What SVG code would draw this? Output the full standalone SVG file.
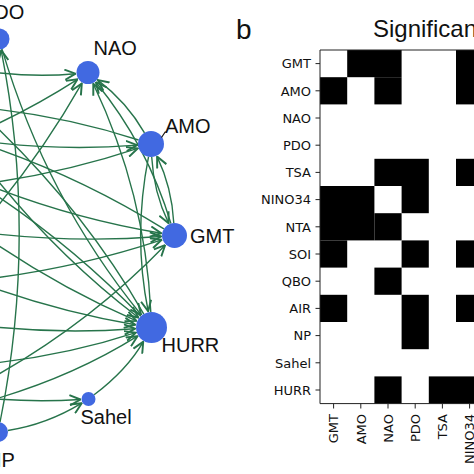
<svg xmlns="http://www.w3.org/2000/svg" width="474" height="474" viewBox="0 0 474 474">
<defs>
<marker id="ah" markerUnits="userSpaceOnUse" markerWidth="12" markerHeight="12" viewBox="0 0 8 8" refX="7.5" refY="4" orient="auto">
<path d="M0.3,0.6 L7.5,4 L0.3,7.4" fill="none" stroke="#27744b" stroke-width="1.3"/>
</marker>
</defs>
<style>
.e{fill:none;stroke:#27744b;stroke-width:1.4;marker-end:url(#ah)}
.n{fill:#4169e1}
.nl{font-family:"Liberation Sans",Arial,sans-serif;font-size:20px;fill:#111}
.tl{font-family:"DejaVu Sans",sans-serif;font-size:13px;fill:#111}
.blk{fill:#000}
.ax{stroke:#222;stroke-width:1;fill:none}
</style>
<rect width="474" height="474" fill="#fff"/>
<g id="connectors">
<path class="e" d="M173.8,223.0 Q171.9,187.4 157.1,156.6"/>
<path class="e" d="M151.7,157.0 Q153.6,192.1 168.6,223.3"/>
<path class="e" d="M170.9,223.5 Q147.6,145.4 95.9,82.2"/>
<path class="e" d="M144.5,132.8 Q126.7,102.0 97.9,80.1"/>
<path class="e" d="M150.8,312.0 Q145.3,193.7 93.3,83.8"/>
<path class="e" d="M163.9,228.9 Q17.1,137.2 -166,107"/>
<path class="e" d="M138.6,140.0 Q-3.8,93.8 -166,107"/>
<path class="e" d="M-166,107 Q-8.6,205.3 161.2,233.3"/>
<path class="e" d="M-166,107 Q-11.2,157.2 137.1,145.1"/>
<path class="e" d="M-209,189 Q-21.9,250.6 161.0,236.5"/>
<path class="e" d="M-209,189 Q-24.5,202.5 137.7,148.4"/>
<path class="e" d="M-209,189 Q-48.9,160.5 77.5,79.3"/>
<path class="e" d="M-209,283 Q-12.5,297.6 161.7,239.8"/>
<path class="e" d="M-89,418 Q61.0,353.1 165.1,245.2"/>
<path class="e" d="M-89,54 Q-2.4,81.0 75.6,73.7"/>
<path class="e" d="M-166,365 Q-9.8,244.2 81.8,83.4"/>
<path class="e" d="M0,422.2 Q37.8,235.6 1.2,50.3"/>
<path class="e" d="M143.8,314.1 Q58.6,166.7 -89,54"/>
<path class="e" d="M140.8,316.3 Q14.8,185.5 -166,107"/>
<path class="e" d="M148.5,156.8 Q132.9,235.8 148.2,311.3"/>
<path class="e" d="M2.0,49.1 Q46.4,198.5 141.1,314.7"/>
<path class="e" d="M-89,54 Q3.9,214.8 138.4,317.5"/>
<path class="e" d="M-166,107 Q-29.3,249.0 136.4,320.9"/>
<path class="e" d="M-209,189 Q-42.6,294.3 135.2,324.7"/>
<path class="e" d="M-209,283 Q-33.2,341.3 135.1,328.7"/>
<path class="e" d="M-166,365 Q-3.5,378.0 135.8,332.6"/>
<path class="e" d="M-89,418 Q40.3,396.8 137.5,336.2"/>
<path class="e" d="M94.1,394.8 Q127.2,369.6 143.2,341.8"/>
<path class="e" d="M7.9,430.5 Q46.6,424.6 81.7,403.2"/>
<path class="e" d="M-166,365 Q-42.2,407.5 80.5,399.5"/>
</g>
<g id="node-PDO"><circle class="n" cx="-1" cy="39" r="10.5"/><text class="nl" x="-19" y="19">PDO</text></g>
<g id="node-NAO"><circle class="n" cx="88" cy="72.5" r="11.5"/><text class="nl" x="93.5" y="55">NAO</text></g>
<g id="node-AMO"><circle class="n" cx="151" cy="144" r="13"/><line x1="161.5" y1="137.5" x2="165.5" y2="131.5" stroke="#111" stroke-width="1.2"/><text class="nl" x="165" y="133">AMO</text></g>
<g id="node-GMT"><circle class="n" cx="174.5" cy="235.5" r="12.5"/><text class="nl" x="190" y="243">GMT</text></g>
<g id="node-HURR"><circle class="n" cx="151.5" cy="327.5" r="15.5"/><text class="nl" x="161.5" y="352">HURR</text></g>
<g id="node-Sahel"><circle class="n" cx="88.5" cy="399" r="7"/><text class="nl" x="80.5" y="424">Sahel</text></g>
<g id="node-NP"><circle class="n" cx="-2" cy="432" r="10"/><text class="nl" x="-13" y="467">NP</text></g>
<g id="panel-b">
<text x="236" y="39" font-family="Liberation Sans,Arial,sans-serif" font-size="28" fill="#111">b</text>
<text x="373" y="37" font-family="Liberation Sans,Arial,sans-serif" font-size="24" fill="#111">Significan</text>
<g id="cells">
<rect class="blk" x="347.2" y="50" width="54.4" height="27.2"/>
<rect class="blk" x="456" y="50" width="27.2" height="54.4"/>
<rect class="blk" x="320" y="77.2" width="27.2" height="27.2"/>
<rect class="blk" x="374.4" y="77.2" width="27.2" height="27.2"/>
<rect class="blk" x="374.4" y="158.8" width="54.4" height="27.2"/>
<rect class="blk" x="456" y="158.8" width="27.2" height="27.2"/>
<rect class="blk" x="320" y="186" width="54.4" height="54.4"/>
<rect class="blk" x="401.6" y="186" width="27.2" height="27.2"/>
<rect class="blk" x="374.4" y="213.2" width="27.2" height="27.2"/>
<rect class="blk" x="320" y="240.4" width="27.2" height="27.2"/>
<rect class="blk" x="401.6" y="240.4" width="27.2" height="27.2"/>
<rect class="blk" x="456" y="240.4" width="27.2" height="27.2"/>
<rect class="blk" x="374.4" y="267.6" width="27.2" height="27.2"/>
<rect class="blk" x="320" y="294.8" width="27.2" height="27.2"/>
<rect class="blk" x="401.6" y="294.8" width="27.2" height="54.4"/>
<rect class="blk" x="456" y="294.8" width="27.2" height="27.2"/>
<rect class="blk" x="374.4" y="376.4" width="27.2" height="27.2"/>
<rect class="blk" x="428.8" y="376.4" width="54.4" height="27.2"/>
</g>
<path class="ax" d="M480,50 H320 V403.6 H480"/>
<path class="ax" d="M315.5,63.6 H320 M315.5,90.8 H320 M315.5,118 H320 M315.5,145.2 H320 M315.5,172.4 H320 M315.5,199.6 H320 M315.5,226.8 H320 M315.5,254 H320 M315.5,281.2 H320 M315.5,308.4 H320 M315.5,335.6 H320 M315.5,362.8 H320 M315.5,390 H320"/>
<path class="ax" d="M333.6,403.6 V408.5 M360.8,403.6 V408.5 M388,403.6 V408.5 M415.2,403.6 V408.5 M442.4,403.6 V408.5 M469.6,403.6 V408.5"/>
<g class="tl" text-anchor="end">
<text x="311" y="68.3">GMT</text>
<text x="311" y="95.5">AMO</text>
<text x="311" y="122.7">NAO</text>
<text x="311" y="149.9">PDO</text>
<text x="311" y="177.1">TSA</text>
<text x="311" y="204.3">NINO34</text>
<text x="311" y="231.5">NTA</text>
<text x="311" y="258.7">SOI</text>
<text x="311" y="285.9">QBO</text>
<text x="311" y="313.1">AIR</text>
<text x="311" y="340.3">NP</text>
<text x="311" y="367.5">Sahel</text>
<text x="311" y="394.7">HURR</text>
<text transform="translate(338.3,414) rotate(-90)">GMT</text>
<text transform="translate(365.5,414) rotate(-90)">AMO</text>
<text transform="translate(392.7,414) rotate(-90)">NAO</text>
<text transform="translate(419.9,414) rotate(-90)">PDO</text>
<text transform="translate(447.1,414) rotate(-90)">TSA</text>
<text transform="translate(474.3,414) rotate(-90)">NINO34</text>
</g>
</g>
</svg>
